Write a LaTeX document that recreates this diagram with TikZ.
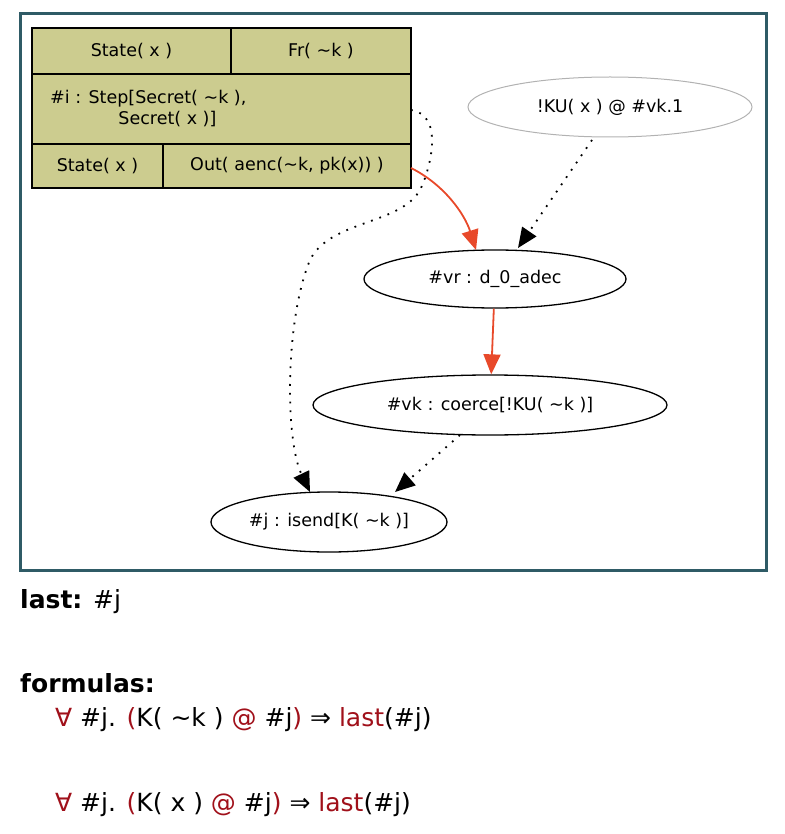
\documentclass[tikz,border=0pt]{standalone}
\usepackage{fontspec}
\setmainfont{DejaVu Sans}
\usetikzlibrary{arrows.meta,shapes.geometric}
\definecolor{frame}{HTML}{2F5B66}
\definecolor{khaki}{HTML}{CCCC8F}
\definecolor{redE}{HTML}{E8492A}
\definecolor{dred}{HTML}{A0101A}
\begin{document}
\begin{tikzpicture}[x=1pt,y=-1pt,
  cell/.style={draw=black,fill=khaki,line width=1.2pt,inner sep=0pt,font=\fontsize{17.5}{21}\selectfont},
  ell/.style={ellipse,draw=black,line width=1.3pt,inner sep=0pt,font=\fontsize{17.5}{21}\selectfont},
  dotE/.style={line width=1.8pt,dash pattern=on 1.8pt off 7pt,-{Triangle[length=20pt,width=17pt]}},
  redA/.style={redE,line width=1.8pt,-{Triangle[length=20pt,width=17pt]}},
  txt/.style={anchor=west,font=\fontsize{25}{30}\selectfont,inner sep=0pt}]
\useasboundingbox (0,0) rectangle (784,834);
\draw[frame,line width=3pt] (20,14) rectangle (766,570);
% table
\node[cell,minimum width=199pt,minimum height=46pt] (s1) at (131.5,51) {State( x )};
\node[cell,minimum width=180pt,minimum height=46pt] (fr) at (321,51) {Fr( \textasciitilde k )};
\node[cell,minimum width=379pt,minimum height=70pt] (st) at (221.5,109) {};
\node[font=\fontsize{17.5}{21}\selectfont,align=left,anchor=west,inner sep=0pt] (stt) at (50,109) {\#i : Step[Secret( \textasciitilde k ),\\\hspace{3.9em}Secret( x )]};
\node[cell,minimum width=131pt,minimum height=44pt] (s2) at (97.5,166) {State( x )};
\node[cell,minimum width=248pt,minimum height=44pt] (out) at (287,166) {Out( aenc(\textasciitilde k, pk(x)) )};
% ellipses
\node[ell,draw=gray!60,line width=1pt,minimum width=284pt,minimum height=60pt] (ku) at (610,107) {!KU( x ) @ \#vk.1};
\node[ell,minimum width=262pt,minimum height=58pt] (vr) at (495,279) {\#vr : d\_0\_adec};
\node[ell,minimum width=354pt,minimum height=60pt] (vk) at (490,405) {\#vk : coerce[!KU( \textasciitilde k )]};
\node[ell,minimum width=236pt,minimum height=60pt] (j) at (329,522) {\#j : isend[K( \textasciitilde k )]};
% edges
\coordinate (o1) at (411,168);
\coordinate (o2) at (411,110);
\coordinate (t1) at (476,250);
\draw[redA] (o1) .. controls (445,185) and (465,215) .. (t1);
\draw[dotE] (592,140) -- (518,248);
\draw[redA] (vr) -- (vk);
\draw[dotE] (460,435) -- (395,492);
\draw[dotE] (o2) .. controls (445,115) and (430,170) .. (420,190)
  .. controls (400,225) and (330,220) .. (310,260)
  .. controls (285,320) and (285,440) .. (310,492);
% text
\node[txt] (last) at (20,602) {\textbf{last:} \#j};
\node[txt] (form) at (20,683) {\textbf{formulas:}};
\node[txt] (f1) at (55,720) {\textcolor{dred}{∀} \#j. \textcolor{dred}{(}K( \textasciitilde k ) \textcolor{dred}{@} \#j\textcolor{dred}{)} ⇒ \textcolor{dred}{last}(\#j)};
\node[txt] (f2) at (55,805) {\textcolor{dred}{∀} \#j. \textcolor{dred}{(}K( x ) \textcolor{dred}{@} \#j\textcolor{dred}{)} ⇒ \textcolor{dred}{last}(\#j)};
\end{tikzpicture}
\end{document}
